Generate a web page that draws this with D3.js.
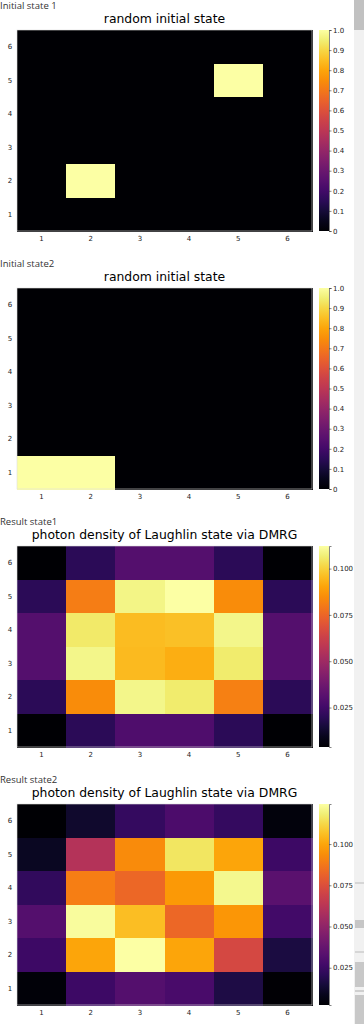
<!DOCTYPE html>
<html><head><meta charset="utf-8">
<script src="https://cdn.jsdelivr.net/npm/d3@7"></script>
<style>body{margin:0;background:#fff;overflow:hidden} svg{display:block}</style>
</head><body>
<svg id="c" width="364" height="1024"></svg>
<script>
// ---- data ----
const xLabels = ["1","2","3","4","5","6"];
const yLabels = ["6","5","4","3","2","1"]; // rows listed top to bottom
const panelLabels = ["Initial state 1","Initial state2","Result state1","Result state2"];
const panelTitles = ["random initial state","random initial state",
  "photon density of Laughlin state via DMRG","photon density of Laughlin state via DMRG"];

const initialState1 = [
  [0,0,0,0,0,0],
  [0,0,0,0,1,0],
  [0,0,0,0,0,0],
  [0,0,0,0,0,0],
  [0,1,0,0,0,0],
  [0,0,0,0,0,0]];
const initialState2 = [
  [0,0,0,0,0,0],
  [0,0,0,0,0,0],
  [0,0,0,0,0,0],
  [0,0,0,0,0,0],
  [0,0,0,0,0,0],
  [1,1,0,0,0,0]];
const resultState1 = [
  [0.0037,0.0200,0.0300,0.0300,0.0200,0.0037],
  [0.0200,0.0810,0.1085,0.1122,0.0850,0.0200],
  [0.0300,0.1055,0.0955,0.0965,0.1090,0.0300],
  [0.0300,0.1090,0.0950,0.0925,0.1060,0.0300],
  [0.0200,0.0850,0.1090,0.1060,0.0820,0.0200],
  [0.0037,0.0200,0.0290,0.0290,0.0200,0.0037]];
const resultState2 = [
  [0.0024,0.0120,0.0230,0.0300,0.0230,0.0048],
  [0.0097,0.0610,0.0930,0.1160,0.1000,0.0256],
  [0.0220,0.0900,0.0830,0.0970,0.1210,0.0340],
  [0.0320,0.1230,0.1060,0.0830,0.0960,0.0270],
  [0.0256,0.1000,0.1243,0.1000,0.0720,0.0158],
  [0.0040,0.0256,0.0320,0.0290,0.0170,0.0030]];

const ticks01 = [0,0.1,0.2,0.3,0.4,0.5,0.6,0.7,0.8,0.9,1.0];
const tickLabels01 = ["0","0.1","0.2","0.3","0.4","0.5","0.6","0.7","0.8","0.9","1.0"];
const ticksRes = [0.025,0.050,0.075,0.100];
const tickLabelsRes = ["0.025","0.050","0.075","0.100"];

const panels = [
  {data: initialState1, ticks: ticks01, tickLabels: tickLabels01},
  {data: initialState2, ticks: ticks01, tickLabels: tickLabels01},
  {data: resultState1, ticks: ticksRes, tickLabels: tickLabelsRes},
  {data: resultState2, ticks: ticksRes, tickLabels: tickLabelsRes}];

// ---- layout ----
const svg = d3.select("#c");
const L = 17, R = 312, H = 201, cbX = 319, cbW = 10;
const panelTops = [30, 288, 546, 804];

// scrollbar strip (screenshot artefact)
svg.append("rect").attr("x",354).attr("y",0).attr("width",10).attr("height",1024).attr("fill","#f1f1f1");
svg.append("rect").attr("x",354).attr("y",0).attr("width",10).attr("height",30).attr("fill","#c1c1c1");
[[882,2,"#d6d6d6"],[920,8,"#c6c6c6"],[951,2,"#d6d6d6"],[962,25,"#c8c8c8"],[990,2,"#cfcfcf"],[995,29,"#c8c8c8"]]
  .forEach(([yy,hh,cc]) => svg.append("rect").attr("x",355).attr("y",yy).attr("width",9).attr("height",hh).attr("fill",cc));

const defs = svg.append("defs");

panels.forEach((p, i) => {
  const top = panelTops[i];
  const g = svg.append("g");
  const flat = p.data.flat();
  const vmin = d3.min(flat), vmax = d3.max(flat);
  const color = d3.scaleSequential(d3.interpolateInferno).domain([vmin, vmax]);

  g.append("text").attr("x",0).attr("y",top-21)
    .attr("font-family","Open Sans, sans-serif").attr("font-size",9.5).attr("fill","#333")
    .text(panelLabels[i]);
  g.append("text").attr("x",(L+R)/2).attr("y",top-7).attr("text-anchor","middle")
    .attr("font-family","DejaVu Sans").attr("font-size",12.4).attr("fill","#000")
    .text(panelTitles[i]);

  const x = d3.scaleBand().domain(xLabels).range([L,R]);
  const y = d3.scaleBand().domain(yLabels).range([top, top+H]);

  const cells = g.append("g").attr("shape-rendering","crispEdges");
  p.data.forEach((row, r) => {
    row.forEach((v, c) => {
      cells.append("rect").attr("x", x(xLabels[c])).attr("y", y(yLabels[r]))
        .attr("width", x.bandwidth()+0.6).attr("height", y.bandwidth()+0.6)
        .attr("fill", color(v));
    });
  });
  g.append("rect").attr("x",L).attr("y",top).attr("width",R-L).attr("height",H)
    .attr("fill","none").attr("stroke","#ddd").attr("stroke-width",0.6);

  // axis labels
  xLabels.forEach(l => {
    g.append("text").attr("x", x(l)+x.bandwidth()/2).attr("y", top+H+10).attr("text-anchor","middle")
      .attr("font-family","DejaVu Sans").attr("font-size",7).attr("fill","#222").text(l);
  });
  yLabels.forEach(l => {
    g.append("text").attr("x", 10).attr("y", y(l)+y.bandwidth()/2+2.5).attr("text-anchor","middle")
      .attr("font-family","DejaVu Sans").attr("font-size",7).attr("fill","#222").text(l);
  });

  // colorbar
  const gid = "grad"+i;
  const grad = defs.append("linearGradient").attr("id",gid).attr("x1",0).attr("y1",1).attr("x2",0).attr("y2",0);
  d3.range(0,1.0001,0.05).forEach(t => grad.append("stop").attr("offset",t).attr("stop-color",d3.interpolateInferno(t)));
  g.append("rect").attr("x",cbX).attr("y",top).attr("width",cbW).attr("height",H).attr("fill",`url(#${gid})`);
  const cy = d3.scaleLinear().domain([vmin, vmax]).range([top+H, top]);
  const axis = d3.axisRight(cy).tickValues(p.ticks).tickSize(2.5).tickPadding(1.5)
    .tickFormat((d,k) => p.tickLabels[k]);
  const ag = g.append("g").attr("transform",`translate(${cbX+cbW},0)`).call(axis);
  ag.select(".domain").attr("stroke","#333").attr("stroke-width",0.6);
  ag.selectAll(".tick line").attr("stroke","#333").attr("stroke-width",0.6);
  ag.selectAll(".tick text").attr("font-family","DejaVu Sans").attr("font-size",7).attr("fill","#222");
});
</script>
</body></html>
